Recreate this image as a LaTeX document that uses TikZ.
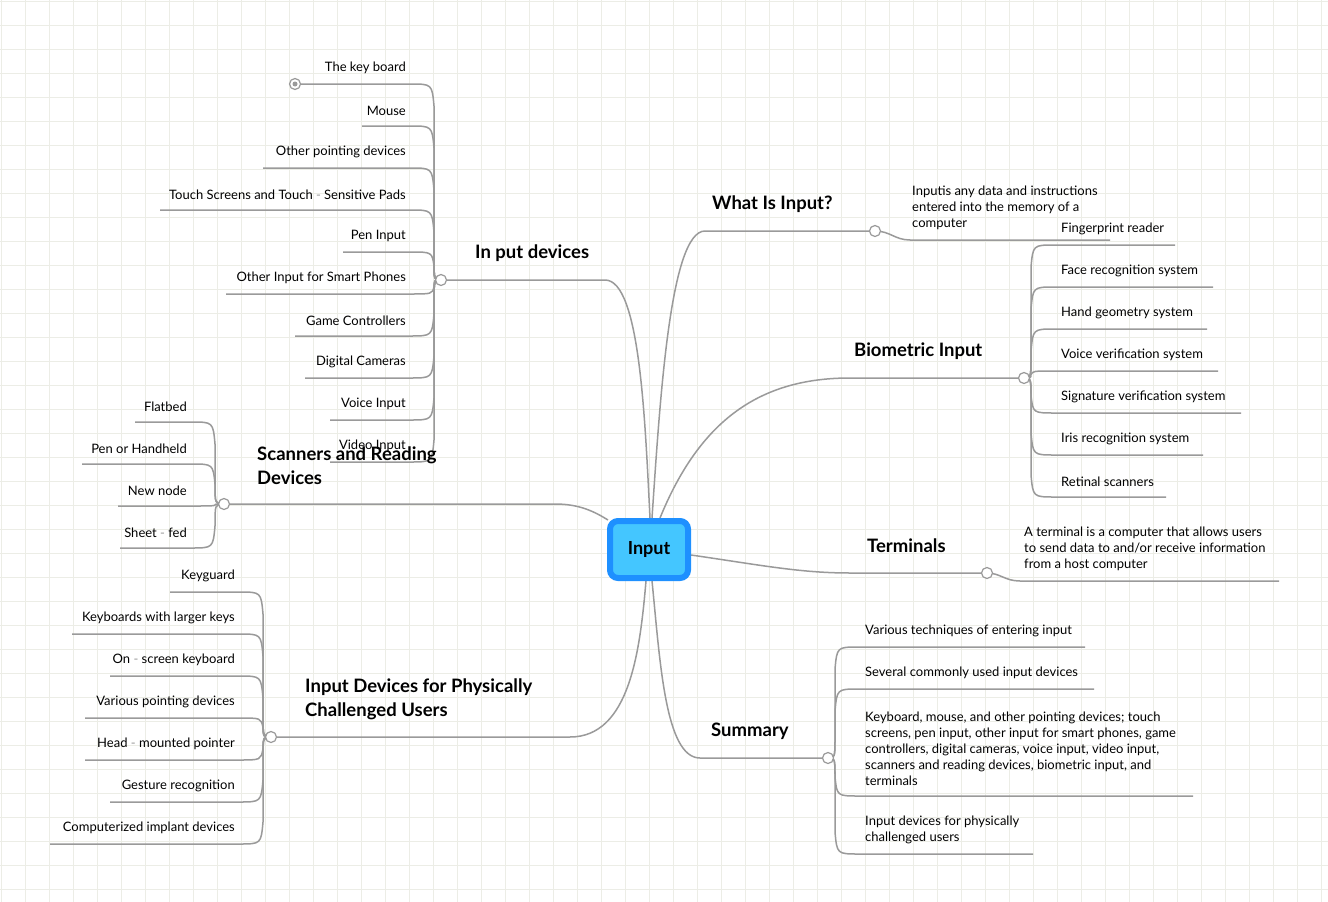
\documentclass[tikz,border=0pt]{standalone}
\usepackage{fontspec}
\setmainfont{Lato}
\definecolor{ln}{HTML}{9A9A9A}
\definecolor{grd}{HTML}{ECEDE6}
\definecolor{cblue}{HTML}{1E90FF}
\definecolor{clight}{HTML}{44C6FF}
\newcommand\hy{{\color{ln}-}}
\tikzset{
 leaf/.style={inner sep=0pt,font=\fontsize{13}{16}\selectfont,align=left},
 lbl/.style={inner sep=0pt,font=\fontsize{18.5}{24}\selectfont\bfseries,align=left,anchor=west},
 br/.style={draw=ln,line width=1.5pt},
 jn/.style={circle,draw=ln,fill=white,line width=1.2pt,minimum size=11pt,inner sep=0pt}
}
% #1 xL  #2 y  #3 xs  #4 jy  #5 text #6 name ; \jx = junction x
\newcommand\lleaf[6]{%
 \pgfmathsetmacro\sg{ifthenelse(#2<#4,1,-1)}%
 \pgfmathsetmacro\dd{\sg*min(22,abs(#4-#2)/2)}%
 \node[leaf,anchor=south east] (#6) at (#3-28,#2-10) {#5};
 \draw[br] (#1,#2) -- (#3-24,#2) .. controls (#3-2,#2) .. (#3,#2+\dd) -- (#3,#4-\dd) .. controls (#3,#4) .. (\jx,#4);}
\newcommand\rleaf[6]{%
 \pgfmathsetmacro\sg{ifthenelse(#2<#4,1,-1)}%
 \pgfmathsetmacro\dd{\sg*min(22,abs(#4-#2)/2)}%
 \node[leaf,anchor=south west] (#6) at (#3+30,#2-10) {#5};
 \draw[br] (#1,#2) -- (#3+24,#2) .. controls (#3+2,#2) .. (#3,#2+\dd) -- (#3,#4-\dd) .. controls (#3,#4) .. (\jx,#4);}
\begin{document}
\begin{tikzpicture}[x=1pt,y=-1pt]
\useasboundingbox (0,0) rectangle (1328,902);
\fill[white] (0,0) rectangle (1328,902);
\foreach \i in {0,...,55} {\draw[grd,line width=0.8pt] (1+24*\i,0) -- (1+24*\i,902);}
\foreach \i in {0,...,37} {\draw[grd,line width=0.8pt] (0,1+24*\i) -- (1328,1+24*\i);}

% central branches
\draw[br] (441,280) -- (605,280) .. controls (640,280) and (645,420) .. (650,518);
\draw[br] (224,504) -- (555,504) .. controls (580,504) and (595,512) .. (608,520);
\draw[br] (271,737) -- (570,737) .. controls (630,737) and (640,650) .. (646,581);
\draw[br] (652,518) .. controls (660,400) and (670,231) .. (705,231) -- (875,231);
\draw[br] (660,518) .. controls (700,420) and (760,378) .. (850,378) -- (1024,378);
\draw[br] (691,555) .. controls (760,565) and (800,573) .. (850,573) -- (987,573);
\draw[br] (652,581) .. controls (660,660) and (665,758) .. (700,758) -- (828,758);

% In put devices
\def\jx{441}
\lleaf{295}{84}{434}{280}{The key board}{a1}
\lleaf{362}{126}{434}{280}{Mouse}{a2}
\lleaf{263}{168}{434}{280}{Other pointing devices}{a3}
\lleaf{160}{210}{434}{280}{Touch Screens and Touch \hy{} Sensitive Pads}{a4}
\lleaf{343}{252}{434}{280}{Pen Input}{a5}
\lleaf{226}{294}{434}{280}{Other Input for Smart Phones}{a6}
\lleaf{295}{336}{434}{280}{Game Controllers}{a7}
\lleaf{305}{378}{434}{280}{Digital Cameras}{a8}
\lleaf{330}{420}{434}{280}{Voice Input}{a9}
\lleaf{330}{462}{434}{280}{Video Input}{a10}
\node[circle,draw=ln,fill=white,line width=1.2pt,minimum size=11pt,inner sep=0pt] (kb) at (295,84) {};
\fill[ln] (kb) circle (2.5);
\node[jn] (j1) at (441,280) {};
\node[lbl] (l1) at (475,253) {In put devices};

% Scanners
\def\jx{224}
\lleaf{135}{422}{215}{504}{Flatbed}{b1}
\lleaf{82}{464}{215}{504}{Pen or Handheld}{b2}
\lleaf{118}{506}{215}{504}{New node}{b3}
\lleaf{120}{548}{215}{504}{Sheet \hy{} fed}{b4}
\node[jn] (j2) at (224,504) {};
\node[lbl] (l2) at (257,466) {Scanners and Reading\\Devices};

% Physically challenged
\def\jx{271}
\lleaf{170}{592}{263}{737}{Keyguard}{c1}
\lleaf{72}{634}{263}{737}{Keyboards with larger keys}{c2}
\lleaf{110}{676}{263}{737}{On \hy{} screen keyboard}{c3}
\lleaf{85}{718}{263}{737}{Various pointing devices}{c4}
\lleaf{85}{760}{263}{737}{Head \hy{} mounted pointer}{c5}
\lleaf{110}{802}{263}{737}{Gesture recognition}{c6}
\lleaf{50}{844}{263}{737}{Computerized implant devices}{c7}
\node[jn] (j3) at (271,737) {};
\node[lbl] (l3) at (305,699) {Input Devices for Physically\\Challenged Users};

% What is input
\draw[br] (875,231) .. controls (890,231) and (895,240) .. (910,240) -- (1110,240);
\node[leaf,anchor=south west] (d1) at (912,230) {Inputis any data and instructions\\entered into the memory of a\\computer};
\node[jn] (j4) at (875,231) {};
\node[lbl] (l4) at (712,204) {What Is Input?};

% Biometric
\def\jx{1024}
\rleaf{1175}{245}{1031}{378}{Fingerprint reader}{e1}
\rleaf{1213}{287}{1031}{378}{Face recognition system}{e2}
\rleaf{1207}{329}{1031}{378}{Hand geometry system}{e3}
\rleaf{1218}{371}{1031}{378}{Voice verification system}{e4}
\rleaf{1241}{413}{1031}{378}{Signature verification system}{e5}
\rleaf{1203}{455}{1031}{378}{Iris recognition system}{e6}
\rleaf{1166}{497}{1031}{378}{Retinal scanners}{e7}
\node[jn] (j5) at (1024,378) {};
\node[lbl] (l5) at (854,351) {Biometric Input};

% Terminals
\draw[br] (987,573) .. controls (1000,573) and (1005,581) .. (1020,581) -- (1279,581);
\node[leaf,anchor=south west] (f1) at (1024,571) {A terminal is a computer that allows users\\to send data to and/or receive information\\from a host computer};
\node[jn] (j6) at (987,573) {};
\node[lbl] (l6) at (867,546) {Terminals};

% Summary
\def\jx{828}
\rleaf{1085}{647}{835}{758}{Various techniques of entering input}{g1}
\rleaf{1094}{689}{835}{758}{Several commonly used input devices}{g2}
\rleaf{1193}{796}{835}{758}{Keyboard, mouse, and other pointing devices; touch\\screens, pen input, other input for smart phones, game\\controllers, digital cameras, voice input, video input,\\scanners and reading devices, biometric input, and\\terminals}{g3}
\rleaf{1033}{854}{835}{758}{Input devices for physically\\challenged users}{g4}
\node[jn] (j7) at (828,758) {};
\node[lbl] (l7) at (711,731) {Summary};

% center
\node[draw=cblue,fill=clight,line width=6pt,rounded corners=8pt,minimum width=78pt,minimum height=57pt,font=\fontsize{18}{20}\selectfont\bfseries] (c) at (649,549.5) {Input};
\end{tikzpicture}
\end{document}
